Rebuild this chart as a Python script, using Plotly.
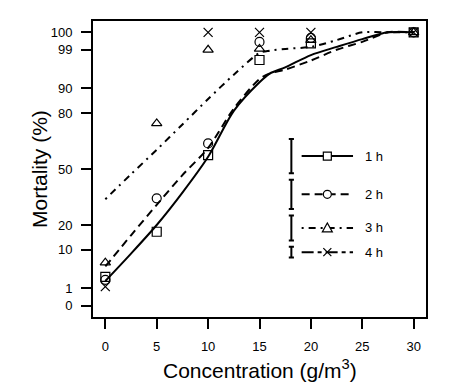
import numpy as np
import plotly.graph_objects as go

# ---------------- data ----------------
conc = [0, 5, 10, 15, 20, 30]
obs_1h = [2.7, 17, 58, 97.5, 99.6, 100]
obs_2h = [2.2, 33.5, 64.5, 99.7, 99.9, 100]
obs_3h = [6.0, 75, 99, 99.1, 99.8, 100]
obs_4h = [1.2, None, 100, 100, 100, 100]

fit_x = [0, 2.5, 5, 7.5, 10, 12.5, 15, 16, 17.5, 20, 22.5, 25, 27.5, 30]
fit_1h = [2.0, 8.7, 20, 36.6, 57, 81, 92, 94.5, 96, 98.3, 99.3, 99.85, 100, 100]
fit_2h = [5.0, 15.5, 30, 46.5, 62, 82, 93, 94.5, 95.5, 97.4, 99.0, 99.7, 100, 100]
fit_3h = [33, 47, 61, 74.5, 86, 94.2, 98.6, 98.9, 99.1, 99.3, 99.8, 100, 100, 100]

lsd = [0.197, 0.168, 0.144, 0.061]  # bar lengths in transformed (arcsine sqrt) units
series_labels = ["1 h", "2 h", "3 h", "4 h"]
y_ticks = [0, 1, 10, 20, 50, 80, 90, 99, 100]
x_ticks = [0, 5, 10, 15, 20, 25, 30]


def asq(p):
    out = []
    for v in p:
        out.append(None if v is None else float(np.arcsin(np.sqrt(v / 100.0))))
    return out


FONT = "Liberation Sans, Arial, Helvetica, sans-serif"
dashes = ["solid", "8px,5px", "2px,5px,7px,5px", "12px,4px,4px,4px"]
symbols = ["square-open", "circle-open", "triangle-up-open", "x-thin-open"]
obs = [obs_1h, obs_2h, obs_3h, obs_4h]
fits = [fit_1h, fit_2h, fit_3h]

fig = go.Figure()

for f, d in zip(fits, dashes):
    fig.add_trace(go.Scatter(x=fit_x, y=asq(f), mode="lines",
                             line=dict(color="black", width=2, dash=d, shape="spline", smoothing=0.8),
                             showlegend=False, hoverinfo="skip"))

for o, s in zip(obs, symbols):
    fig.add_trace(go.Scatter(x=conc, y=asq(o), mode="markers",
                             marker=dict(symbol=s, size=9, color="black",
                                         line=dict(color="black", width=1.2)),
                             showlegend=False))

# ---------------- manual legend (decoration) ----------------
shapes = []
annotations = []
bar_x = 18.1
cap = 0.25
line_x0, line_x1 = 19.1, 24.1
mark_x = 21.6
text_x = 25.1
top = 0.958
gap = 0.037
marker_paths = {
    0: dict(type="rect", x0=-4, x1=4, y0=-4, y1=4),
    1: dict(type="circle", x0=-4, x1=4, y0=-4, y1=4),
    2: dict(type="path", path="M-5,-4L5,-4L0,5Z"),
    3: dict(type="path", path="M-4,-4L4,4M-4,4L4,-4"),
}
for i, L in enumerate(lsd):
    yt = top
    yb = top - L
    ym = (yt + yb) / 2
    shapes.append(dict(type="path", xref="x", yref="y",
                       path=f"M{bar_x},{yb}L{bar_x},{yt}M{bar_x-cap},{yt}L{bar_x+cap},{yt}"
                            f"M{bar_x-cap},{yb}L{bar_x+cap},{yb}",
                       line=dict(color="black", width=2)))
    shapes.append(dict(type="line", xref="x", yref="y", x0=line_x0, x1=line_x1, y0=ym, y1=ym,
                       line=dict(color="black", width=2, dash=dashes[i])))
    m = dict(marker_paths[i])
    m.update(xref="x", yref="y", xsizemode="pixel", ysizemode="pixel",
             xanchor=mark_x, yanchor=ym, line=dict(color="black", width=1.2))
    if i < 3:
        m["fillcolor"] = "white"
    shapes.append(m)
    annotations.append(dict(x=text_x, y=ym, xref="x", yref="y", text=series_labels[i],
                            showarrow=False, xanchor="left", yanchor="middle",
                            font=dict(size=13, color="black", family=FONT)))
    top = yb - gap

annotations.append(dict(x=0, y=0.5, xref="paper", yref="paper", xshift=-54,
                        text="Mortality (%)", textangle=-90, showarrow=False,
                        xanchor="center", yanchor="middle",
                        font=dict(size=21, color="black", family=FONT)))
annotations.append(dict(x=0.5, y=0, xref="paper", yref="paper", yshift=-52,
                        text="Concentration (g/m<sup>3</sup>)", showarrow=False,
                        xanchor="center", yanchor="middle",
                        font=dict(size=21, color="black", family=FONT)))

axis_common = dict(showgrid=False, zeroline=False, showline=True, mirror=True,
                   linecolor="black", linewidth=2, ticks="outside", ticklen=10,
                   tickwidth=1.5, tickcolor="black",
                   tickfont=dict(size=13, color="black", family=FONT))

fig.update_layout(
    width=474, height=389,
    margin=dict(l=85, r=56, t=13, b=80),
    paper_bgcolor="white", plot_bgcolor="white",
    xaxis=dict(range=[-1.2, 31.2], tickvals=x_ticks, ticklabelstandoff=6, **axis_common),
    yaxis=dict(range=[-0.065, 1.636], tickvals=asq(y_ticks),
               ticktext=[str(v) for v in y_ticks], ticklabelstandoff=6, **axis_common),
    shapes=shapes, annotations=annotations,
    showlegend=False,
)

fig.write_html("out.html")
